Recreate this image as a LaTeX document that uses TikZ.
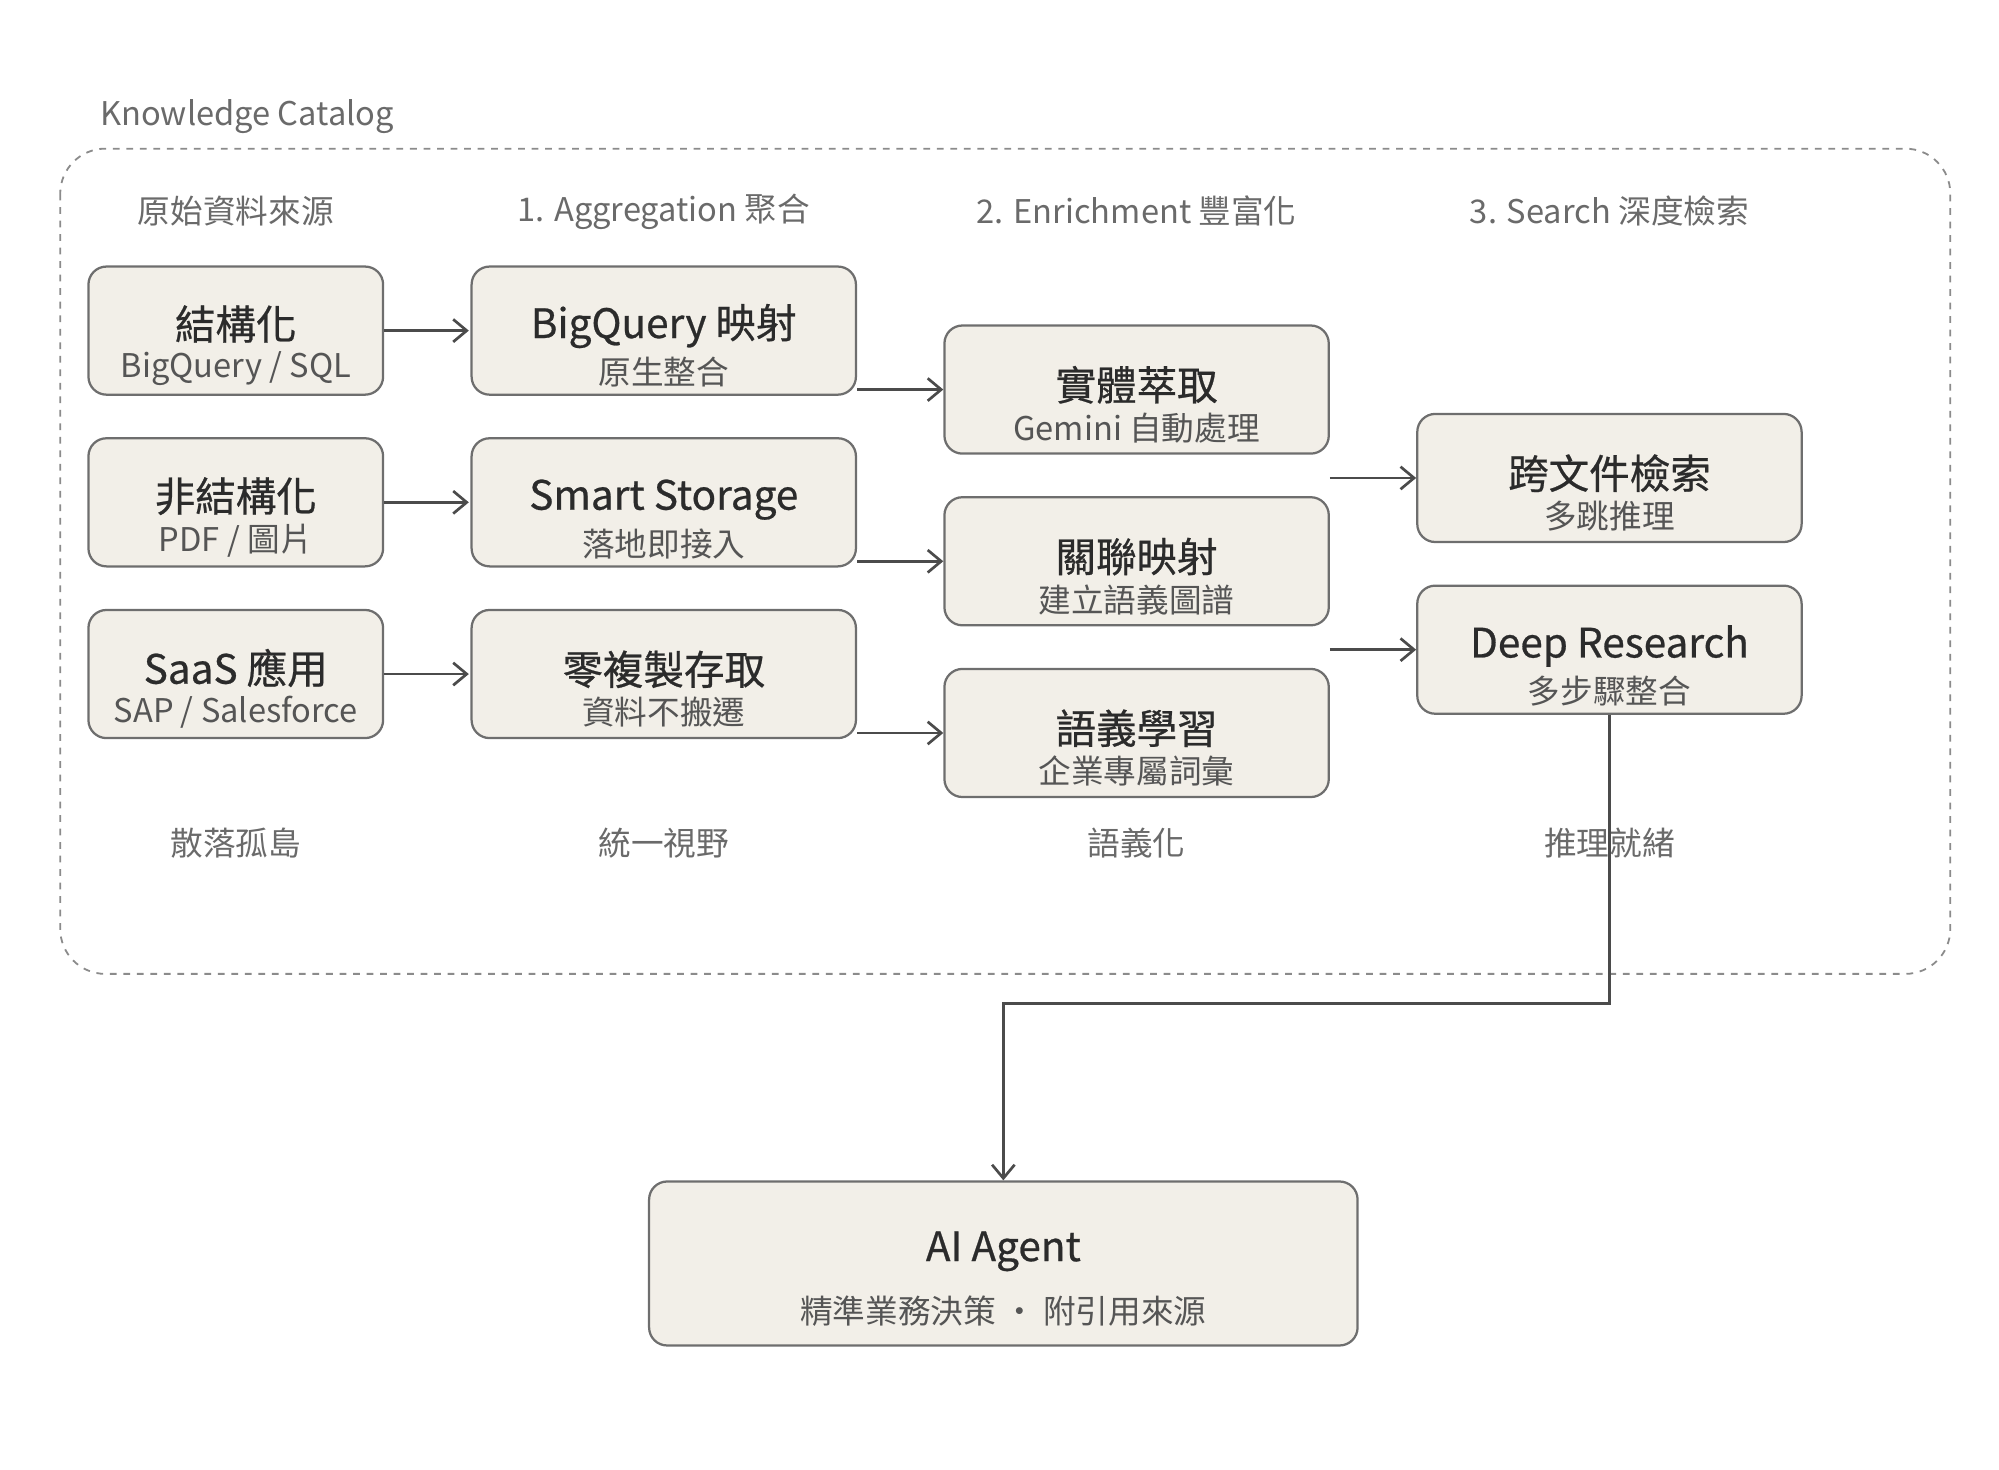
\documentclass[tikz,border=0pt]{standalone}
\usepackage{fontspec}
\setmainfont{Noto Sans CJK TC}
\newfontfamily\midfont[FakeBold=0.6]{Noto Sans CJK TC}
\usetikzlibrary{arrows.meta}
\definecolor{boxfill}{HTML}{F2EFE8}
\definecolor{boxline}{HTML}{6E6E6E}
\definecolor{ink}{HTML}{2B2B2B}
\definecolor{soft}{HTML}{555555}
\definecolor{hdr}{HTML}{6A6A6A}
\newcommand{\boxtext}[2]{\rule{0pt}{1.0cm}{\midfont\fontsize{18}{21}\selectfont #1}\\[3pt]{\fontsize{14.5}{16}\selectfont\color{soft}#2}}
\begin{document}
\begin{tikzpicture}
[x=0.02cm,y=-0.02cm,
card/.style={draw=boxline, fill=boxfill, rounded corners=8pt, line width=1pt, align=center, text=ink, inner sep=0pt, minimum height=2cm},
narrow/.style={card, minimum width=4.6cm},
wide/.style={card, minimum width=6cm},
head/.style={text=hdr, font=\fontsize{14.5}{17}\selectfont},
flow/.style={draw=ink!85, line width=1.2pt, -{Straight Barb[length=6pt,width=10pt]}}]
\useasboundingbox (0,0) rectangle (1560,1147);
\draw[boxline!80, dashed, line width=0.8pt, rounded corners=20pt] (47,116) rectangle (1522,760);
\node[head, anchor=west] (catalog) at (72,91) {Knowledge Catalog};

% headers
\node[head] (h1) at (184,165) {原始資料來源};
\node[head] (h2) at (518,165) {1. Aggregation 聚合};
\node[head] (h3) at (887,165) {2. Enrichment 豐富化};
\node[head] (h4) at (1256,165) {3. Search 深度檢索};

% sources
\node[narrow] (s1) at (184,258) {\boxtext{結構化}{BigQuery / SQL}};
\node[narrow] (s2) at (184,392) {\boxtext{非結構化}{PDF / 圖片}};
\node[narrow] (s3) at (184,526) {\boxtext{SaaS 應用}{SAP / Salesforce}};

% aggregation
\node[wide] (a1) at (518,258) {\boxtext{BigQuery 映射}{原生整合}};
\node[wide] (a2) at (518,392) {\boxtext{Smart Storage}{落地即接入}};
\node[wide] (a3) at (518,526) {\boxtext{零複製存取}{資料不搬遷}};

% enrichment
\node[wide] (e1) at (887,304) {\boxtext{實體萃取}{Gemini 自動處理}};
\node[wide] (e2) at (887,438) {\boxtext{關聯映射}{建立語義圖譜}};
\node[wide] (e3) at (887,572) {\boxtext{語義學習}{企業專屬詞彙}};

% search
\node[wide] (r1) at (1256,373) {\boxtext{跨文件檢索}{多跳推理}};
\node[wide] (r2) at (1256,507) {\boxtext{Deep Research}{多步驟整合}};

% footers
\node[head] (f1) at (184,658) {散落孤島};
\node[head] (f2) at (518,658) {統一視野};
\node[head] (f3) at (887,658) {語義化};
\node[head] (f4) at (1256,658) {推理就緒};

\node[card, minimum width=11.06cm, minimum height=2.56cm] (agent) at (783,986)
  {\rule{0pt}{0.95cm}{\midfont\fontsize{18}{21}\selectfont AI Agent}\\[10pt]{\fontsize{14.5}{16}\selectfont\color{soft}精準業務決策 ・ 附引用來源}};

% arrows
\draw[flow] (s1.east) -- ++(66,0);
\draw[flow] (s2.east) -- ++(66,0);
\draw[flow] (s3.east) -- ++(66,0);
\draw[flow] (a1.east |- e1) -- (e1.west);
\draw[flow] (a2.east |- e2) -- (e2.west);
\draw[flow] (a3.east |- e3) -- (e3.west);
\draw[flow] (e1.east |- r1) -- (r1.west);
\draw[flow] (e2.east |- r2) -- (r2.west);
\coordinate (turn) at (1256,783);
\draw[flow] (r2.south) -- (turn) -| (agent.north);
\end{tikzpicture}
\end{document}
